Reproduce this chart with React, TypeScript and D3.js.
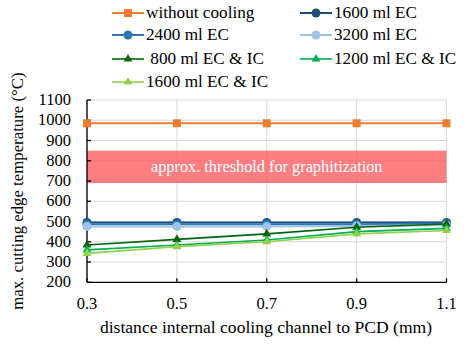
import React from "react";
import * as d3 from "d3";

const distances = [0.3, 0.5, 0.7, 0.9, 1.1];
const xTicks = ["0.3", "0.5", "0.7", "0.9", "1.1"];
const yTicks = [200, 300, 400, 500, 600, 700, 800, 900, 1000, 1100];

const withoutCooling = [985, 985, 985, 985, 985];
const ec1600 = [495, 495, 495, 495, 495];
const ec2400 = [487, 487, 487, 487, 490];
const ec3200 = [476, 476, 476, 478, 482];
const ecic800 = [384, 412, 439, 472, 488];
const ecic1200 = [360, 384, 409, 450, 466];
const ecic1600 = [343, 376, 400, 439, 456];
const threshold = [690, 850];

const seriesNames = [
  "without cooling",
  "1600 ml EC",
  "2400 ml EC",
  "3200 ml EC",
  " 800 ml EC & IC",
  "1200 ml EC & IC",
  "1600 ml EC & IC",
];
const seriesValues = [withoutCooling, ec1600, ec2400, ec3200, ecic800, ecic1200, ecic1600];
const seriesColors = ["#ED7D31", "#1F4E79", "#2E75B6", "#9DC3E6", "#00640A", "#00B050", "#92D050"];
const seriesMarkers = ["square", "circle", "circle", "circle", "triangle", "triangle", "triangle"];
const seriesWidths = [2, 2, 2, 2, 1.6, 1.6, 1.6];

const FONT = "'Liberation Serif', serif";

function Marker({ type, x, y, color }: { type: string; x: number; y: number; color: string }) {
  if (type === "square") return <rect x={x - 4} y={y - 4} width={8} height={8} fill={color} />;
  if (type === "circle") return <circle cx={x} cy={y} r={4.5} fill={color} />;
  const s = d3.symbol().type(d3.symbolTriangle).size(34)();
  return <path d={s || ""} transform={`translate(${x},${y})`} fill={color} />;
}

export default function App() {
  const W = 474, H = 344;
  const x = d3.scaleLinear().domain([0.3, 1.1]).range([87, 446.5]);
  const y = d3.scaleLinear().domain([200, 1100]).range([282.3, 100]);
  const line = d3.line<number>().x((_, i) => x(distances[i])).y((v) => y(v));

  const legendPos = [
    [112, 13], [300, 13], [112, 35], [300, 35], [112, 59], [300, 59], [112, 82],
  ];

  return (
    <svg width={W} height={H} style={{ position: "absolute", left: 0, top: 0, background: "#fff" }} fontFamily={FONT}>
      {yTicks.map((t) => (
        <line key={"gy" + t} x1={x(0.3)} x2={x(1.1)} y1={y(t)} y2={y(t)} stroke="#D9D9D9" strokeWidth={1} />
      ))}
      {distances.map((d) => (
        <line key={"gx" + d} x1={x(d)} x2={x(d)} y1={y(1100)} y2={y(200)} stroke="#D9D9D9" strokeWidth={1} />
      ))}
      <rect x={x(0.3)} width={x(1.1) - x(0.3)} y={y(threshold[1])} height={y(threshold[0]) - y(threshold[1])} fill="#FF5A5F" opacity={0.78} />
      <text x={(x(0.3) + x(1.1)) / 2} y={(y(threshold[0]) + y(threshold[1])) / 2 + 5} textAnchor="middle" fill="#fff" fontSize={16.3}>
        approx. threshold for graphitization
      </text>
      <line x1={x(0.3)} x2={x(0.3)} y1={y(1100)} y2={y(200)} stroke="#000" strokeWidth={1.3} />
      <line x1={x(0.3)} x2={x(1.1)} y1={y(200)} y2={y(200)} stroke="#000" strokeWidth={1.3} />
      {yTicks.map((t) => (
        <line key={"ty" + t} x1={x(0.3)} x2={x(0.3) + 4} y1={y(t)} y2={y(t)} stroke="#000" strokeWidth={1.3} />
      ))}
      {distances.map((d) => (
        <line key={"tx" + d} x1={x(d)} x2={x(d)} y1={y(200)} y2={y(200) - 4} stroke="#000" strokeWidth={1.3} />
      ))}
      {yTicks.map((t) => (
        <text key={"ly" + t} x={71} y={y(t) + 5} textAnchor="end" fontSize={16.5} fill="#000">{t}</text>
      ))}
      {distances.map((d, i) => (
        <text key={"lx" + d} x={x(d)} y={309} textAnchor="middle" fontSize={16.5} fill="#000">{xTicks[i]}</text>
      ))}
      {seriesValues.map((vals, si) => (
        <g key={"s" + si}>
          <path d={line(vals) || ""} fill="none" stroke={seriesColors[si]} strokeWidth={seriesWidths[si]} />
          {vals.map((v, i) => (
            <Marker key={i} type={seriesMarkers[si]} x={x(distances[i])} y={y(v)} color={seriesColors[si]} />
          ))}
        </g>
      ))}
      <text x={266} y={333} textAnchor="middle" fontSize={17.6} fill="#000">distance internal cooling channel to PCD (mm)</text>
      <text transform={`translate(23,${(y(1100) + y(200)) / 2}) rotate(-90)`} textAnchor="middle" fontSize={16.8} fill="#000">
        max. cutting edge temperature (°C)
      </text>
      {seriesNames.map((n, i) => {
        const [lx, ly] = legendPos[i];
        return (
          <g key={"lg" + i}>
            <line x1={lx} x2={lx + 32} y1={ly} y2={ly} stroke={seriesColors[i]} strokeWidth={seriesWidths[i]} />
            <Marker type={seriesMarkers[i]} x={lx + 16} y={ly} color={seriesColors[i]} />
            <text x={lx + 34} y={ly + 5} fontSize={17.2} fill="#000" style={{ whiteSpace: "pre" }}>{n}</text>
          </g>
        );
      })}
    </svg>
  );
}
